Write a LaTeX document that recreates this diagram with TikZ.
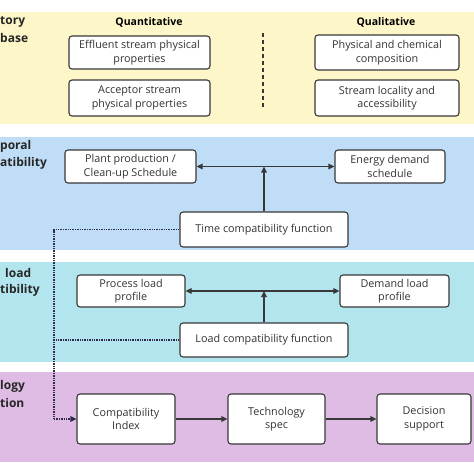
\documentclass[tikz,border=0pt]{standalone}
\usepackage{fontspec}
\setmainfont{Open Sans}
\usepackage{xcolor}
\usepackage{tikz}
\usetikzlibrary{arrows.meta, positioning}

\definecolor{bandyellow}{HTML}{FDF6C9}
\definecolor{bandblue}{HTML}{BFDDF6}
\definecolor{bandcyan}{HTML}{B3E5EE}
\definecolor{bandpurple}{HTML}{DEBCE4}
\definecolor{edge}{HTML}{383838}
\definecolor{dots}{HTML}{2E2A4A}

\begin{document}
\begin{tikzpicture}[x=1pt, y=-1pt,
    box/.style={draw=edge, fill=white, line width=1.1pt, rounded corners=3pt,
        align=center, inner sep=0pt, text=black!80, font=\fontsize{10.8}{13.5}\selectfont},
    head/.style={font=\fontsize{10.5}{12}\selectfont\bfseries, inner sep=0pt},
    side/.style={font=\fontsize{12}{14}\selectfont\bfseries, inner sep=0pt, anchor=west, text=black!85},
    arr/.style={draw=edge, line width=1.1pt, -{Triangle[length=6pt, width=5.5pt]}},
    dotline/.style={draw=dots, line width=1.4pt, densely dotted}]

    \useasboundingbox (0,0) rectangle (474,474);

    % Fasce
    \fill[bandyellow] (0,12) rectangle (474,124);
    \fill[bandblue] (0,137) rectangle (474,250);
    \fill[bandcyan] (0,262) rectangle (474,362);
    \fill[bandpurple] (0,372) rectangle (474,462);

    % Etichette a sinistra
    \node[side] (l1a) at (0,22) {tory};
    \node[side] (l1b) at (0,38) {base};
    \node[side] (l2a) at (0,146) {poral};
    \node[side] (l2b) at (0,163) {atibility};
    \node[side] (l3a) at (5,273) {load};
    \node[side] (l3b) at (0,290) {tibility};
    \node[side] (l4a) at (0,386) {logy};
    \node[side] (l4b) at (0,403) {tion};

    % Dati
    \node[head] (quant) at (149,22) {Quantitative};
    \node[head] (qual) at (386,22) {Qualitative};
    \draw[edge, line width=1.1pt, dash pattern=on 4pt off 3pt] (263,33) -- (263,108);

    \node[box, minimum width=141pt, minimum height=33pt] (eff) at (139.5,52.5) {Effluent stream physical\\properties};
    \node[box, minimum width=141pt, minimum height=36pt] (acc) at (139.5,98) {Acceptor stream\\physical properties};
    \node[box, minimum width=144pt, minimum height=35pt] (chem) at (387,52.5) {Physical and chemical\\composition};
    \node[box, minimum width=144pt, minimum height=36pt] (loc) at (387,98) {Stream locality and\\accessibility};

    % Compatibilita temporale
    \node[box, minimum width=131pt, minimum height=33pt] (plant) at (130.5,166.5) {Plant production /\\Clean-up Schedule};
    \node[box, minimum width=110pt, minimum height=33pt] (energy) at (390,166.5) {Energy demand\\schedule};
    \node[box, minimum width=168pt, minimum height=35pt] (time) at (264,229.5) {Time compatibility function};
    \coordinate (tj) at (264,166.5);
    \draw[arr] (time.north) -- (tj);
    \draw[arr] (tj) -- (plant.east);
    \draw[arr] (tj) -- (energy.west);

    % Compatibilita di carico
    \node[box, minimum width=108pt, minimum height=32pt] (proc) at (131,291) {Process load\\profile};
    \node[box, minimum width=109pt, minimum height=32pt] (dem) at (394.5,291) {Demand load\\profile};
    \node[box, minimum width=168pt, minimum height=34pt] (loadf) at (264,340) {Load compatibility function};
    \coordinate (lj) at (264,291);
    \draw[arr] (loadf.north) -- (lj);
    \draw[arr] (lj) -- (proc.east);
    \draw[arr] (lj) -- (dem.west);

    % Tecnologia
    \node[box, minimum width=98pt, minimum height=50pt] (ci) at (126,419) {Compatibility\\Index};
    \node[box, minimum width=97pt, minimum height=50pt] (tech) at (276.5,419) {Technology\\spec};
    \node[box, minimum width=94pt, minimum height=50pt] (dec) at (424,419) {Decision\\support};
    \draw[arr] (ci) -- (tech);
    \draw[arr] (tech) -- (dec);

    % Linea tratteggiata
    \coordinate (dt) at (54,229.5);
    \coordinate (dl) at (54,340);
    \coordinate (dc) at (54,419);
    \draw[dotline] (time.west) -- (dt) -- (dc);
    \draw[dotline] (loadf.west) -- (dl);
    \draw[dotline, -{Triangle[length=6pt, width=5.5pt]}] (dc) -- (ci.west);
\end{tikzpicture}
\end{document}
